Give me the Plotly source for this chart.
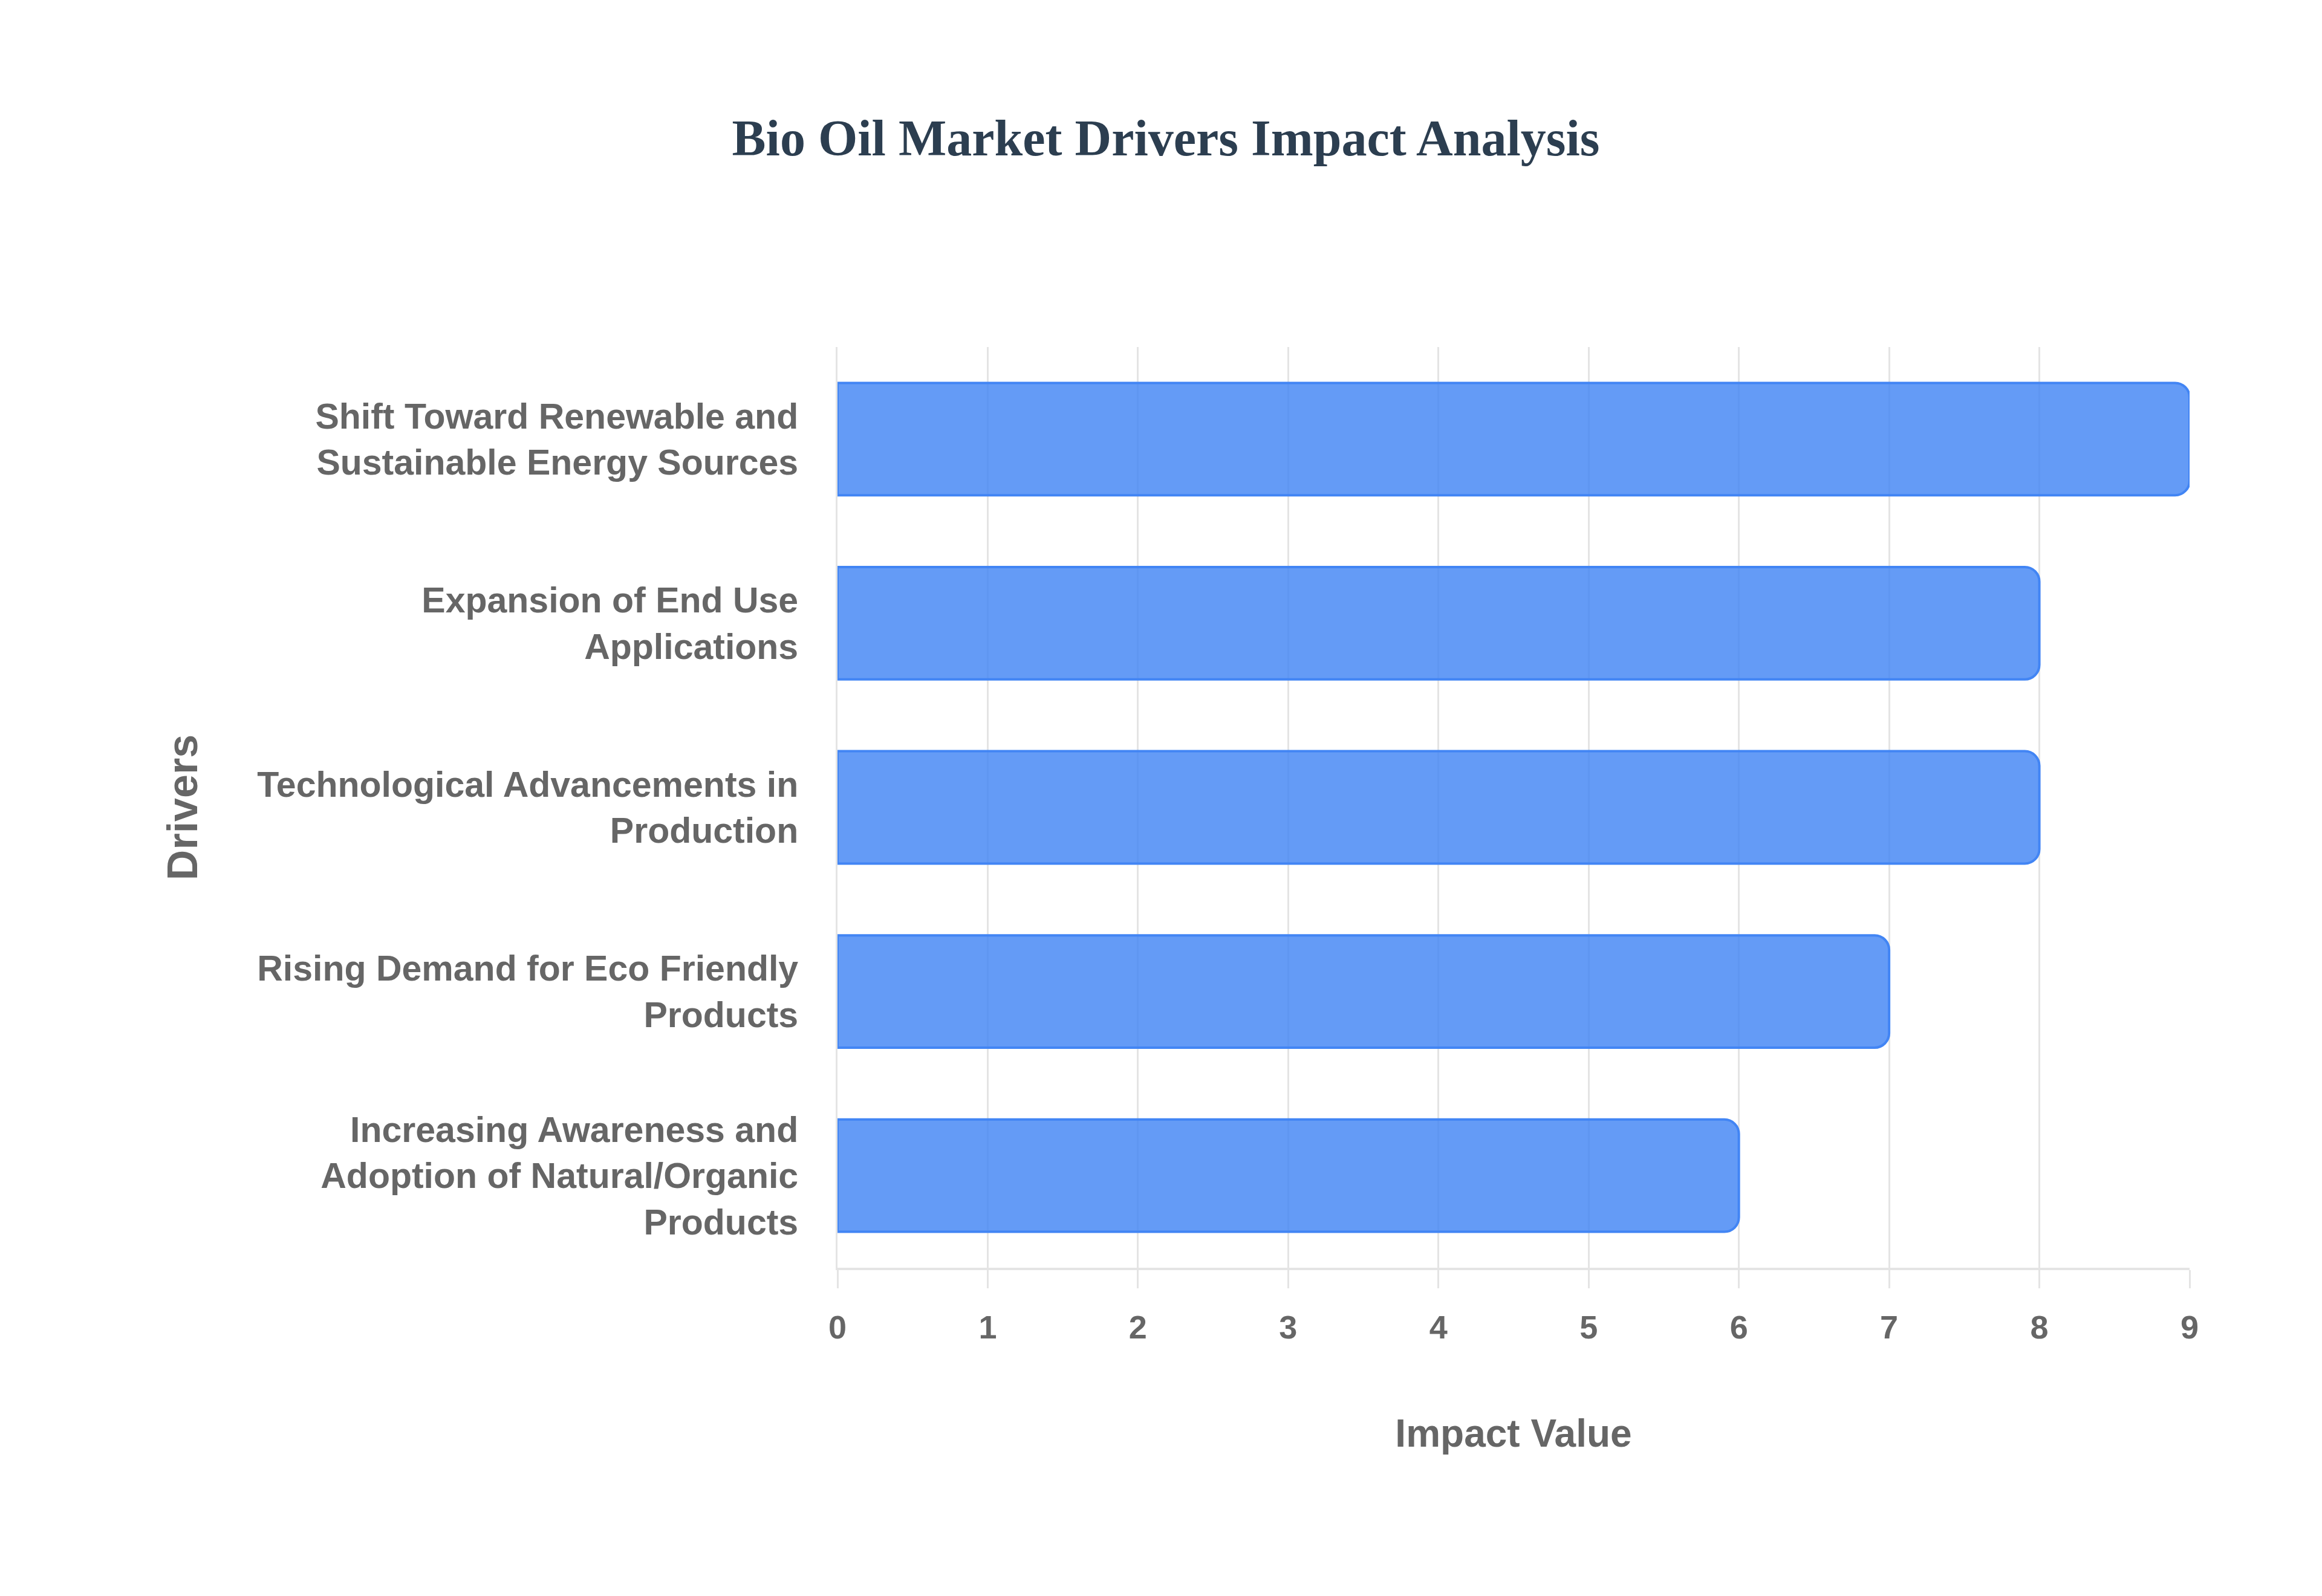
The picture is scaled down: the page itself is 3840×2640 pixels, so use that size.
import plotly.graph_objects as go

# Drivers listed top to bottom, as in the chart
drivers = [
    "Shift Toward Renewable and<br>Sustainable Energy Sources",
    "Expansion of End Use<br>Applications",
    "Technological Advancements in<br>Production",
    "Rising Demand for Eco Friendly<br>Products",
    "Increasing Awareness and<br>Adoption of Natural/Organic<br>Products",
]
impact = [9, 8, 8, 7, 6]
x_ticks = [0, 1, 2, 3, 4, 5, 6, 7, 8, 9]

grey_text = "rgb(102,102,102)"
grid_col = "rgb(228,228,228)"

fig = go.Figure()
fig.add_trace(go.Bar(
    x=impact,
    y=drivers,
    orientation="h",
    marker=dict(color="rgba(66,133,244,0.82)",
                line=dict(color="rgb(66,133,244)", width=4),
                cornerradius=24),
    hoverinfo="x+y",
))

fig.update_layout(
    width=3840,
    height=2640,
    paper_bgcolor="white",
    plot_bgcolor="white",
    showlegend=False,
    bargap=0.39,
    margin=dict(l=1377, r=227, t=566, b=551),
    title=dict(text="Bio Oil Market Drivers Impact Analysis",
               x=0.5, xanchor="center",
               y=1 - 220 / 2640, yanchor="middle", yref="container",
               font=dict(family="Liberation Serif, Times New Roman, serif",
                         size=84, color="#2c3e50", weight="bold")),
)

fig.update_xaxes(
    range=[0, 9],
    tickvals=x_ticks,
    showgrid=True, gridcolor=grid_col, gridwidth=3,
    showline=True, linecolor=grid_col, linewidth=4,
    ticks="outside", ticklen=30, tickcolor=grid_col, tickwidth=3,
    ticklabelstandoff=18,
    zeroline=False,
    tickfont=dict(family="Liberation Sans, Arial, sans-serif",
                  size=54, color=grey_text, weight="bold"),
    title=dict(text="Impact Value", standoff=125,
               font=dict(family="Liberation Sans, Arial, sans-serif",
                         size=64, color=grey_text, weight="bold")),
)

fig.update_yaxes(
    categoryorder="array",
    categoryarray=drivers[::-1],
    showgrid=False,
    showline=True, linecolor=grid_col, linewidth=3,
    ticks="", ticklabelstandoff=50,
    tickfont=dict(family="Liberation Sans, Arial, sans-serif",
                  size=59, color=grey_text, weight="bold"),
    title=dict(text="Drivers", standoff=76,
               font=dict(family="Liberation Sans, Arial, sans-serif",
                         size=70, color=grey_text, weight="bold")),
)

fig.write_html("out.html")
